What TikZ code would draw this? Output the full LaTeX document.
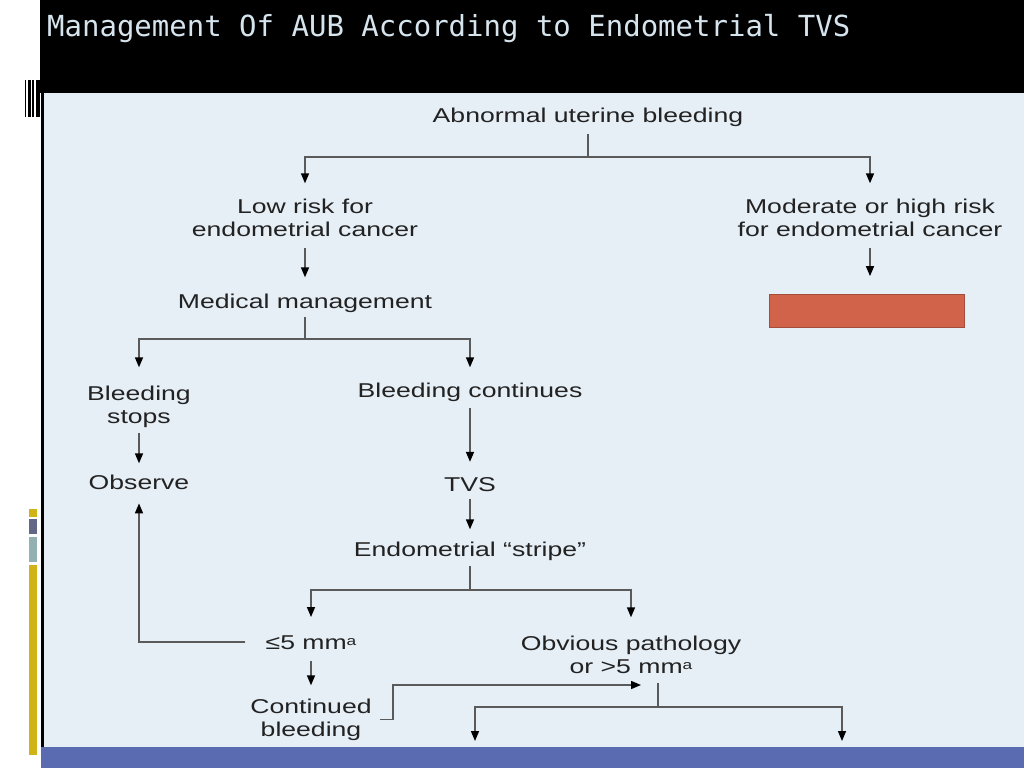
\documentclass[tikz,border=0pt]{standalone}
\usepackage{fontspec}
\usetikzlibrary{arrows.meta}
\newfontfamily\chartfont[FakeStretch=1.33]{Liberation Sans}
\newfontfamily\titlefont{DejaVu Sans Mono}
\definecolor{panelbg}{HTML}{E6EEF6}
\definecolor{titlecol}{HTML}{D6E4EE}
\definecolor{linecol}{HTML}{5A5A5A}
\definecolor{txtcol}{HTML}{222222}
\definecolor{boxfill}{HTML}{D0634A}
\definecolor{boxedge}{HTML}{A34E3C}
\definecolor{bandblue}{HTML}{5B6BB1}
\definecolor{baryellow}{HTML}{CFB317}
\definecolor{barslate}{HTML}{646887}
\definecolor{barteal}{HTML}{93B1B3}
\newcommand\mmsup{\raisebox{4pt}{\fontsize{13}{13}\selectfont a}}
\tikzset{
  lbl/.style={font={\chartfont\fontsize{20}{23.5}\selectfont}, text=txtcol,
    inner sep=0pt, align=center, anchor=base},
  flow/.style={draw=linecol, line width=1.5pt},
  arr/.style={flow, -{Triangle[length=10pt,width=8pt,color=black]}},
  redbox/.style={fill=boxfill, draw=boxedge, line width=0.8pt,
    minimum width=195pt, minimum height=33pt, inner sep=0pt},
}
\begin{document}
\begin{tikzpicture}[x=1pt,y=-1pt]
  \useasboundingbox (0,0) rectangle (1024,768);
  \fill[white] (0,0) rectangle (1024,768);
  \fill[black] (40,0) rectangle (1024,93);
  \fill[black] (41,93) rectangle (44,747);
  \fill[panelbg] (44,93) rectangle (1024,747);
  \foreach \xa/\xb in {25/26.3, 28.3/30.7, 32.3/34.3, 36/40} {
    \fill[black] (\xa,80) rectangle (\xb,117);
  }
  \fill[baryellow] (28.7,508.7) rectangle (36.7,516.7);
  \fill[barslate] (28.7,519.3) rectangle (36.7,534.3);
  \fill[barteal] (28.7,537.3) rectangle (36.7,562.3);
  \fill[baryellow] (28.7,565) rectangle (36.7,755);

  \node[anchor=base west, inner sep=0pt, text=titlecol,
    font={\titlefont\fontsize{29}{29}\selectfont}] (title) at (47,37)
    {Management Of AUB According to Endometrial TVS};

  \begin{scope}
    \node[lbl] (aub) at (588,122) {Abnormal uterine bleeding};
    \node[lbl] (low) at (305,236.5) {Low risk for\\endometrial cancer};
    \node[lbl] (high) at (870,236.5) {Moderate or high risk\\for endometrial cancer};
    \node[lbl] (med) at (305,308) {Medical management};
    \node[redbox] (box) at (866.5,311) {};
    \node[lbl] (stops) at (139,423.5) {Bleeding\\stops};
    \node[lbl] (cont) at (470,397) {Bleeding continues};
    \node[lbl] (obs) at (139,489) {Observe};
    \node[lbl] (tvs) at (470,491) {TVS};
    \node[lbl] (stripe) at (470,556) {Endometrial “stripe”};
    \node[lbl] (thin) at (311,649) {≤5 mm\mmsup};
    \node[lbl] (obv) at (631,673.5) {Obvious pathology\\or >5 mm\mmsup};
    \node[lbl] (bleed) at (311,736.5) {Continued\\bleeding};

    \coordinate (aubj) at (588,157);
    \coordinate (medj) at (305,339);
    \coordinate (stripej) at (470,590);
    \coordinate (obvin) at (641,685);
    \coordinate (obvj) at (658,707);
    \coordinate (outl) at (475,741);
    \coordinate (outr) at (842,741);

    \draw[flow, shorten <=8pt] (aub) -- (aubj);
    \draw[arr, shorten >=15pt] (aubj) -| (low);
    \draw[arr, shorten >=15pt] (aubj) -| (high);
    \draw[arr, shorten <=11pt, shorten >=16pt] (low) -- (med);
    \draw[arr, shorten <=11pt, shorten >=18pt] (high) -- (high |- box.north);
    \draw[flow, shorten <=5pt] (med) -- (medj);
    \draw[arr, shorten >=18pt] (medj) -| (stops);
    \draw[arr, shorten >=15pt] (medj) -| (cont);
    \draw[arr, shorten <=5pt, shorten >=11pt] (stops) -- (obs);
    \draw[arr, shorten <=7pt, shorten >=15pt] (cont) -- (tvs);
    \draw[arr, shorten <=8pt, shorten >=12pt] (tvs) -- (stripe);
    \draw[flow, shorten <=6pt] (stripe) -- (stripej);
    \draw[arr, shorten >=18pt] (stripej) -| (thin);
    \draw[arr, shorten >=18pt] (stripej) -| (obv);
    \draw[arr, shorten <=20pt, shorten >=14pt] (thin.west) -| (obs);
    \draw[arr, shorten <=12pt, shorten >=13pt] (thin) -- (bleed);
    \draw[arr] ([xshift=8pt]bleed.east) -- ++(13,0) |- (obvin);
    \draw[flow, shorten <=9pt] (obvj |- obv.south) -- (obvj);
    \draw[arr] (obvj) -| (outl);
    \draw[arr] (obvj) -| (outr);
  \end{scope}

  \fill[bandblue] (41,747) rectangle (1024,768);
\end{tikzpicture}
\end{document}
